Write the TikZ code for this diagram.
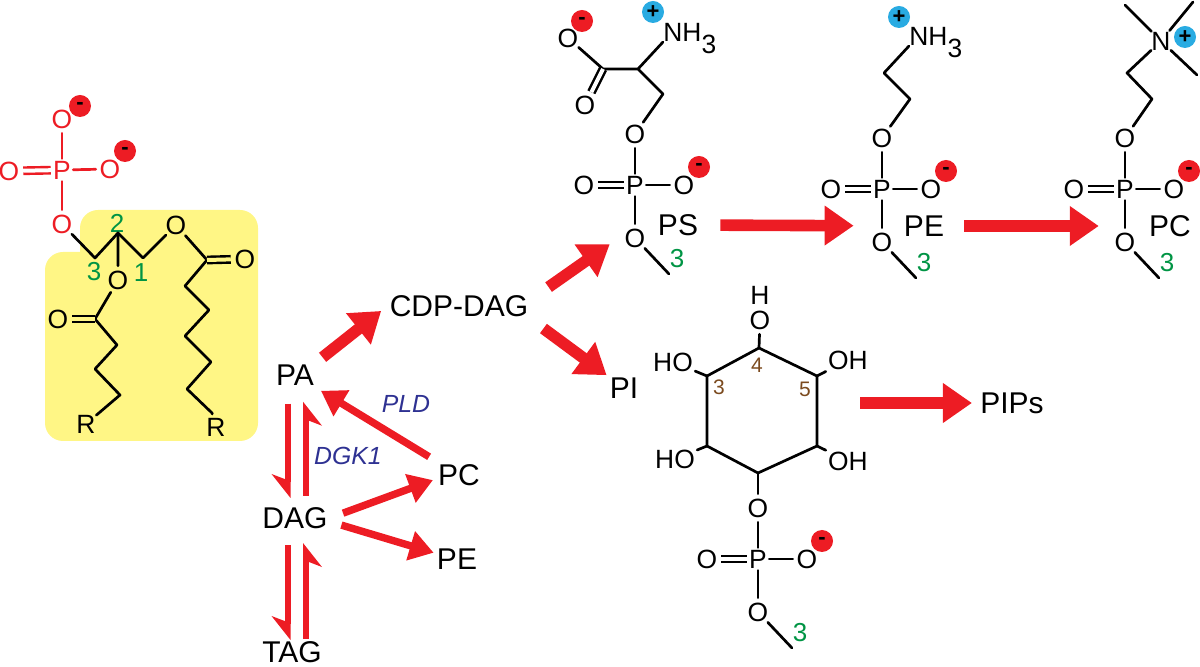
\documentclass[tikz,border=0pt]{standalone}
\usepackage{fontspec}
\setmainfont{Liberation Sans}
\usetikzlibrary{arrows.meta}
\definecolor{mred}{HTML}{ED1C24}
\definecolor{mblue}{HTML}{29ABE2}
\definecolor{mgreen}{HTML}{009444}
\definecolor{mbrown}{HTML}{7B4A1E}
\definecolor{enzyme}{HTML}{2E3192}
\definecolor{headgroup}{HTML}{FFF685}
\pgfdeclarearrow{
  name=Barb,
  setup code={\pgfarrowssettipend{0pt}\pgfarrowssetlineend{-8pt}},
  drawing code={
    \pgfpathmoveto{\pgfpoint{0pt}{1.5pt}}
    \pgfpathlineto{\pgfpoint{-12pt}{-8pt}}
    \pgfpathlineto{\pgfpoint{-9.5pt}{-1.5pt}}
    \pgfpathlineto{\pgfpoint{-10pt}{1.5pt}}
    \pgfpathclose
    \pgfusepathqfill
  }
}
\begin{document}
\begin{tikzpicture}
[x=0.5pt, y=-0.5pt, node distance=25.5pt]
\tikzstyle{atom}=[circle, inner sep=0pt, font=\fontsize{13.2}{15}\selectfont]
\tikzstyle{group}=[rectangle, inner sep=1pt, font=\fontsize{13.2}{15}\selectfont]
\tikzstyle{lipid}=[rectangle, inner sep=1pt, font=\fontsize{15}{17}\selectfont]
\tikzstyle{enz}=[text=enzyme, font=\fontsize{12.4}{14}\selectfont\itshape]
\tikzstyle{num}=[text=mgreen, inner sep=0pt, font=\fontsize{13}{15}\selectfont]
\tikzstyle{ringnum}=[text=mbrown, inner sep=0pt, font=\fontsize{10.5}{13}\selectfont]
\tikzstyle{neg}=[circle, fill=mred, inner sep=0pt, minimum size=11pt, font=\fontsize{11}{12}\selectfont\bfseries]
\tikzstyle{cat}=[circle, fill=mblue, inner sep=0pt, minimum size=11pt, font=\fontsize{11}{12}\selectfont\bfseries]
\tikzstyle{bond}=[line width=1.35pt, line join=round, line cap=round]
\tikzstyle{dbl}=[line width=1.2pt, double, double distance=2pt]
\tikzstyle{fatarrow}=[mred, line width=5.8pt, -{Triangle[length=14.5pt, width=19pt]}]
\tikzstyle{midarrow}=[mred, line width=3.7pt, -{Triangle[length=12pt, width=14.5pt]}]
\tikzstyle{harp}=[mred, line width=3pt, -{Barb}]
\useasboundingbox (0,0) rectangle (1200,667);

% yellow block behind the acyl chains
\fill[headgroup, rounded corners=9pt] (45,252) rectangle (258,441) (80,210) rectangle (258,441);

% red head of the lipid
\node[group, text=mred]	(Pr)	at (62,170)	{P};
\node[atom, text=mred]	(Ort)	[above of=Pr]	{O};
\node[atom, text=mred]	(Orl)	at (9,171)	{O};
\node[atom, text=mred]	(Orr)	at (110,169)	{O};
\node[atom, text=mred]	(Orb)	at (62,224)	{O};
\node[neg]	(Nrt)	at (80,106)	{-};
\node[neg]	(Nrr)	at (125,151)	{-};
\draw [bond, mred] (Ort)--(Pr)--(Orb);
\draw [bond, mred] (Pr)--(Orr);
\draw [dbl, mred] (Orl)--(Pr);

% glycerol and the two chains
\coordinate	(G3)	at (95,258);
\coordinate	(G2)	at (118,233);
\coordinate	(G1)	at (143,258);
\coordinate	(A0)	at (207,260);
\coordinate	(A1)	at (185,286);
\coordinate	(A2)	at (209,310);
\coordinate	(A3)	at (185,336);
\coordinate	(A4)	at (211,362);
\coordinate	(A5)	at (187,389);
\coordinate	(A6)	at (212,413);
\coordinate	(B0)	at (95,319);
\coordinate	(B1)	at (117,345);
\coordinate	(B2)	at (95,369);
\coordinate	(B3)	at (120,395);
\node[atom]	(Oa)	at (176,225)	{O};
\node[atom]	(Oac)	at (245,259)	{O};
\node[atom]	(Ob)	at (118,280)	{O};
\node[atom]	(Obc)	at (58,319)	{O};
\node[atom]	(Ra)	at (216,427)	{R};
\node[atom]	(Rb)	at (86,424)	{R};
\node[num]	(N2)	at (117,223)	{2};
\node[num]	(N3)	at (94,272)	{3};
\node[num]	(N1)	at (141,273)	{1};
\draw [bond] (Orb)--(G3)--(G2)--(G1)--(Oa)--(A0)--(A1)--(A2)--(A3)--(A4)--(A5)--(A6)--(Ra);
\draw [bond] (G2)--(Ob)--(B0)--(B1)--(B2)--(B3)--(Rb);
\draw [dbl, double=headgroup] (A0)--(Oac);
\draw [dbl, double=headgroup] (B0)--(Obc);

% phosphate repeated under each head group
\foreach \n/\x/\y in {S/635/185, E/882/189, C/1125/189, I/758/559}
{
\node[group]	(P\n)	at (\x,\y)	{P};
\node[atom]	(Ot\n)	[above of=P\n]	{O};
\node[atom]	(Ol\n)	[left of=P\n]	{O};
\node[atom]	(Or\n)	[right of=P\n, xshift=-1pt]	{O};
\node[atom]	(Ob\n)	[below of=P\n, yshift=-1pt]	{O};
\node[neg]	(Nn\n)	at (\x+64,\y-18)	{-};
\coordinate	(T\n)	at (\x+34,\y+89);
\node[num]	(Th\n)	at (\x+42,\y+74)	{3};
\draw [bond] (Ot\n)--(P\n)--(Ob\n);
\draw [bond] (P\n)--(Or\n);
\draw [bond] (Ob\n)--(T\n);
\draw [dbl] (Ol\n)--(P\n);
}

% serine
\node[atom]	(Oc)	at (568,38)	{O};
\node[atom]	(Od)	at (585,105)	{O};
\coordinate	(S1)	at (603,69);
\coordinate	(S2)	at (638,69);
\coordinate	(S3)	at (663,94);
\node[group, anchor=base west, inner sep=0pt]	(NS)	at (663,42)	{NH\raisebox{-6pt}{3}};
\node[neg]	(NcS)	at (582,21)	{-};
\node[cat]	(CS)	at (653,12)	{+};
\draw [bond] (Oc)--(S1)--(S2)--(S3)--(OtS);
\draw [bond] (S2)--(NS.base west);
\draw [dbl] (S1)--(Od);

% ethanolamine
\coordinate	(E1)	at (884,73);
\coordinate	(E2)	at (910,99);
\node[group, anchor=base west, inner sep=0pt]	(NE)	at (909,46)	{NH\raisebox{-6pt}{3}};
\node[cat]	(CE)	at (899,17)	{+};
\draw [bond] (NE.base west)--(E1)--(E2)--(OtE);

% choline
\coordinate	(C1)	at (1127,73);
\coordinate	(C2)	at (1152,99);
\coordinate	(Ma)	at (1125,5);
\coordinate	(Mb)	at (1193,2);
\coordinate	(Mc)	at (1197,75);
\node[atom]	(NC)	at (1161,41)	{N};
\node[cat]	(CC)	at (1185,37)	{+};
\draw [bond] (NC)--(C1)--(C2)--(OtC);
\draw [bond] (NC)--(Ma);
\draw [bond] (NC)--(Mb);
\draw [bond] (NC)--(Mc);

% inositol ring
\coordinate	(R1)	at (759,348);
\coordinate	(R2)	at (817,376);
\coordinate	(R3)	at (817,446);
\coordinate	(R4)	at (758,473);
\coordinate	(R5)	at (707,446);
\coordinate	(R6)	at (707,376);
\node[atom]	(Oh)	at (760,320)	{O};
\node[group, inner sep=0pt]	(Hh)	at (760,295)	{H};
\node[group]	(Hoa)	at (848,360)	{OH};
\node[group]	(Hob)	at (848,461)	{OH};
\node[group]	(Hoc)	at (675,459)	{HO};
\node[group]	(Hod)	at (673,362)	{HO};
\node[ringnum]	(K3)	at (719,387)	{3};
\node[ringnum]	(K4)	at (757,365)	{4};
\node[ringnum]	(K5)	at (805,389)	{5};
\draw [bond] (R1)--(R2)--(R3)--(R4)--(R5)--(R6)--cycle;
\draw [bond] (Oh)--(R1);
\draw [bond] (R2)--(Hoa);
\draw [bond] (R3)--(Hob);
\draw [bond] (R5)--(Hoc);
\draw [bond] (R6)--(Hod);
\draw [bond] (R4)--(OtI);

% lipid names
\node[lipid]	(PA)	at (295,375)	{PA};
\node[lipid]	(DAG)	at (295,518)	{DAG};
\node[lipid]	(TAG)	at (292,652)	{TAG};
\node[lipid]	(PCb)	at (459,475)	{PC};
\node[lipid]	(PEb)	at (457,559)	{PE};
\node[lipid]	(CDP)	at (459,306)	{CDP-DAG};
\node[lipid]	(PI)	at (624,388)	{PI};
\node[lipid]	(PIPs)	at (1012,403)	{PIPs};
\node[lipid]	(PSl)	at (678,225)	{PS};
\node[lipid]	(PEl)	at (924,226)	{PE};
\node[lipid]	(PCl)	at (1170,226)	{PC};
\node[enz]	(PLD)	at (406,404)	{PLD};
\node[enz]	(DGK)	at (348,456)	{DGK1};
\coordinate	(RingE)	at (860,403);

% reaction arrows
\draw [fatarrow, shorten <=4pt, shorten >=4pt] (PA.north east)--(CDP.west);
\draw [fatarrow, shorten <=11pt, shorten >=28pt] (CDP.5)--(PSl.north west);
\draw [fatarrow, shorten <=8pt, shorten >=0.5pt] (CDP.south east)--(PI);
\draw [fatarrow, shorten <=10pt, shorten >=24pt] (PSl)--(PEl);
\draw [fatarrow, shorten <=9pt, shorten >=24pt] (PEl)--(PCl);
\draw [fatarrow, shorten >=3pt] (RingE)--(PIPs);
\draw [midarrow, shorten <=5pt, shorten >=3pt] (PCb)--(PA);
\draw [midarrow, shorten <=7pt, shorten >=1.5pt] (DAG.east)--(PCb.190);
\draw [midarrow, shorten <=6pt, shorten >=0.5pt] (DAG.-6)--(PEb.165);
\draw [harp, shorten <=8pt, shorten >=3.5pt] ([xshift=-3.75pt]PA.south)--([xshift=-3.75pt]DAG.north);
\draw [harp, shorten <=4.5pt, shorten >=7pt] ([xshift=5.5pt]DAG.north)--([xshift=5.5pt]PA.south);
\draw [harp, shorten <=7pt, shorten >=-0.5pt] ([xshift=-3.75pt]DAG.south)--([xshift=-3.75pt]DAG.south |- TAG.north);
\draw [harp, shorten <=0pt, shorten >=6pt] ([xshift=5.5pt]DAG.south |- TAG.north)--([xshift=5.5pt]DAG.south);
\end{tikzpicture}
\end{document}
